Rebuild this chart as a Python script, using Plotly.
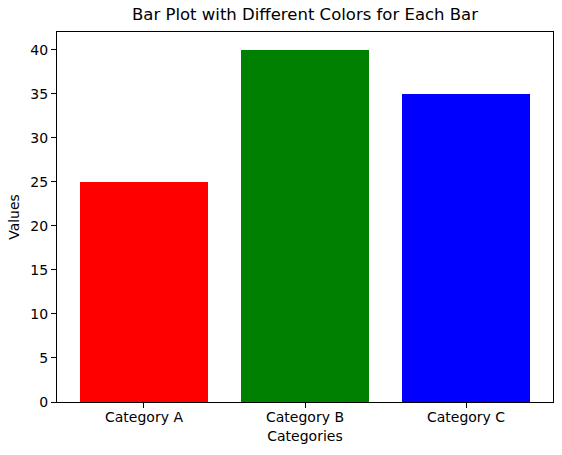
import plotly.graph_objects as go

categories = ["Category A", "Category B", "Category C"]
values = [25, 40, 35]
colors = ["red", "green", "blue"]

FONT = "DejaVu Sans"

fig = go.Figure()
fig.add_trace(go.Bar(
    x=list(range(len(categories))),
    y=values,
    width=0.8,
    marker=dict(color=colors, line=dict(width=0)),
))

axis_style = dict(
    showline=True, linecolor="black", linewidth=1.1, mirror=True,
    ticks="outside", ticklen=5, tickwidth=1.1, tickcolor="black",
    showgrid=False, zeroline=False,
    tickfont=dict(family=FONT, size=14, color="black"),
)

fig.update_xaxes(
    range=[-0.54, 2.54],
    tickvals=list(range(len(categories))), ticktext=categories,
    ticklabelstandoff=-3,
    title=dict(text="Categories", font=dict(family=FONT, size=14, color="black"), standoff=7),
    **axis_style,
)
fig.update_yaxes(
    range=[0, 42], tickvals=list(range(0, 41, 5)),
    title=dict(text="Values", font=dict(family=FONT, size=14, color="black"), standoff=7),
    **axis_style,
)

fig.update_layout(
    width=562, height=455,
    margin=dict(l=57, r=9, t=32, b=53),
    title=dict(text="Bar Plot with Different Colors for Each Bar",
               font=dict(family=FONT, size=16.5, color="black"),
               x=0.5, xref="paper", xanchor="center", y=1, yref="paper", yanchor="bottom", pad=dict(b=12)),
    plot_bgcolor="white", paper_bgcolor="white",
    showlegend=False, bargap=0,
)

# drop the browser's default 8px body margin so the figure fills the window
fig.write_html("out.html", config={"displayModeBar": False},
               post_script="document.body.style.margin = '0';")
